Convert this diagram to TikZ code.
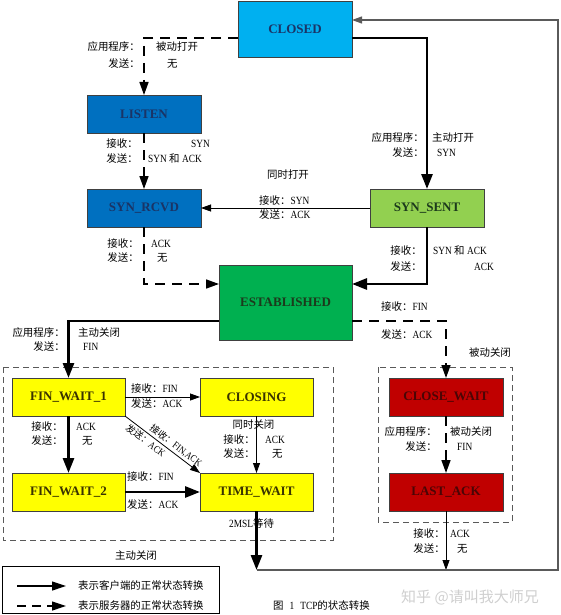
\documentclass[tikz,border=0pt]{standalone}
\usepackage{fontspec}
\setmainfont{Liberation Serif}
\newfontfamily\latfont{Liberation Serif}[FakeStretch=0.85]
\newfontfamily\cjkfont[Scale=0.95]{Noto Sans CJK SC}
\newfontfamily\wmfont{Noto Sans CJK SC}
\usetikzlibrary{arrows.meta,calc}
\newcommand\zh[1]{{\cjkfont #1}}
\definecolor{cclosed}{HTML}{00B0F0}
\definecolor{cblue}{HTML}{0070C0}
\definecolor{cltgreen}{HTML}{92D050}
\definecolor{cgreen}{HTML}{00B050}
\definecolor{cyellow}{HTML}{FFFF00}
\definecolor{cred}{HTML}{C00000}
\definecolor{tblue}{HTML}{1A3466}
\definecolor{tgreen}{HTML}{1C3A1C}
\definecolor{tyellow}{HTML}{3A3300}
\definecolor{tred}{HTML}{4A0505}
\definecolor{retgray}{HTML}{5A5A5A}
\definecolor{wmgray}{HTML}{CFCFCF}
\begin{document}
\begin{tikzpicture}[x=1pt,y=-1pt,
  stbox/.style={draw=black!75, line width=0.6pt, inner sep=0pt, outer sep=0pt,
    minimum width=114pt, minimum height=38pt,
    font=\fontsize{13}{15}\selectfont\bfseries},
  lbl/.style={inner sep=0pt, font=\latfont\fontsize{11}{12}\selectfont},
  dlbl/.style={inner sep=0pt, font=\latfont\fontsize{10}{11}\selectfont},
  thickarr/.style={line width=2.8pt, -{Triangle[length=15pt,width=11pt]}},
  thinarr/.style={line width=0.8pt, -{Triangle[length=10pt,width=7pt]}},
  dasharr/.style={line width=1.6pt, dash pattern=on 10pt off 7pt, -{Triangle[length=13pt,width=9pt]}},
  retline/.style={line width=1.1pt, draw=retgray, -{Triangle[length=10pt,width=7pt]}},
  encl/.style={line width=0.9pt, draw=black!65, dash pattern=on 6pt off 4pt},
  legarr/.style={line width=1.2pt, -{Triangle[length=14pt,width=9pt]}},
  legdash/.style={line width=1.2pt, dash pattern=on 9pt off 6pt, -{Triangle[length=14pt,width=9pt]}}
]
\useasboundingbox (0,0) rectangle (560,615);

% ---- states
\node[stbox, fill=cclosed, text=tblue, minimum height=56pt] (closed) at (295,29) {CLOSED};
\node[stbox, fill=cblue, text=tblue] (listen) at (144,114) {LISTEN};
\node[stbox, fill=cblue, text=tblue] (synrcvd) at (144,208) {SYN\_RCVD};
\node[stbox, fill=cltgreen, text=tgreen] (synsent) at (427,208) {SYN\_SENT};
\node[stbox, fill=cgreen, text=tgreen, minimum width=133pt, minimum height=75pt] (established) at (285.5,302.5) {ESTABLISHED};
\node[stbox, fill=cyellow, text=tyellow, minimum width=113pt] (fw1) at (68.5,397) {FIN\_WAIT\_1};
\node[stbox, fill=cyellow, text=tyellow, minimum width=113pt] (closing) at (256.5,397) {CLOSING};
\node[stbox, fill=cyellow, text=tyellow, minimum width=113pt] (fw2) at (68.5,492) {FIN\_WAIT\_2};
\node[stbox, fill=cyellow, text=tyellow, minimum width=113pt] (timewait) at (256.5,492) {TIME\_WAIT};
\node[stbox, fill=cred, text=tred] (closewait) at (446,397) {CLOSE\_WAIT};
\node[stbox, fill=cred, text=tred] (lastack) at (446,492) {LAST\_ACK};

% ---- enclosures
\draw[encl] (3,367) rectangle (333,540);
\draw[encl] (378,367) rectangle (512,522);

% ---- free ends
\coordinate (bl) at (256.5,570);
\coordinate (br) at (446,570);
\coordinate (rc) at (558,570);

% ---- connectors
\draw[thickarr] ([yshift=-9pt]closed.east) -| (synsent.north);
\draw[dasharr] ([yshift=-9pt]closed.west) -| (listen.north);
\draw[dasharr] (listen.south) -- (synrcvd.north);
\draw[thinarr] (synsent.west) -- (synrcvd.east);
\draw[dasharr] (synrcvd.south) |- ([yshift=18.5pt]established.west);
\draw[thickarr] (synsent.south) |- ([yshift=18.5pt]established.east);
\draw[thickarr] ([yshift=-18.5pt]established.west) -| (fw1.north);
\draw[dasharr] ([yshift=-18.5pt]established.east) -| (closewait.north);
\draw[thinarr] (fw1.east) -- (closing.west);
\draw[thickarr] (fw1.south) -- (fw2.north);
\draw[thinarr] (fw1.south east) --
  node[dlbl, sloped, above=2pt, pos=0.62] {\zh{接收：}FIN,ACK}
  node[dlbl, sloped, below=2pt, pos=0.33] {\zh{发送：}ACK}
  (timewait.north west);
\draw[thinarr] (closing.south) -- (timewait.north);
\draw[thickarr] (fw2.east) -- (timewait.west);
\draw[thickarr] (timewait.south) -- (bl);
\draw[dasharr] (closewait.south) -- (lastack.north);
\draw[thinarr] (lastack.south) -- (br);
\draw[retline] (bl) -- (rc) |- ([yshift=9pt]closed.east);

% ---- labels
\node[lbl, anchor=east] (a1) at (140,47) {\zh{应用程序：}};
\node[lbl, anchor=west] (a2) at (156,47) {\zh{被动打开}};
\node[lbl, anchor=east] (a3) at (140,64) {\zh{发送：}};
\node[lbl, anchor=west] (a4) at (167,64) {\zh{无}};

\node[lbl, anchor=east] (b1) at (138,144) {\zh{接收：}};
\node[lbl, anchor=east] (b2) at (210,144) {SYN};
\node[lbl, anchor=east] (b3) at (138,159) {\zh{发送：}};
\node[lbl, anchor=west] (b4) at (148,159) {SYN\ \zh{和}\ ACK};

\node[lbl] (c0) at (288,175) {\zh{同时打开}};
\node[lbl, anchor=west] (c1) at (259,201) {\zh{接收：}SYN};
\node[lbl, anchor=west] (c2) at (259,215) {\zh{发送：}ACK};

\node[lbl, anchor=east] (d1) at (139,244) {\zh{接收：}};
\node[lbl, anchor=west] (d2) at (151,244) {ACK};
\node[lbl, anchor=east] (d3) at (139,258) {\zh{发送：}};
\node[lbl, anchor=west] (d4) at (157,258) {\zh{无}};

\node[lbl, anchor=east] (e1) at (424,138) {\zh{应用程序：}};
\node[lbl, anchor=west] (e2) at (432,138) {\zh{主动打开}};
\node[lbl, anchor=east] (e3) at (424,153) {\zh{发送：}};
\node[lbl, anchor=west] (e4) at (437,153) {SYN};

\node[lbl, anchor=east] (f1) at (422,251) {\zh{接收：}};
\node[lbl, anchor=west] (f2) at (433,251) {SYN\ \zh{和}\ ACK};
\node[lbl, anchor=east] (f3) at (422,267) {\zh{发送：}};
\node[lbl, anchor=east] (f4) at (494,267) {ACK};

\node[lbl, anchor=east] (g1) at (65,333) {\zh{应用程序：}};
\node[lbl, anchor=west] (g2) at (78,333) {\zh{主动关闭}};
\node[lbl, anchor=east] (g3) at (65,347) {\zh{发送：}};
\node[lbl, anchor=west] (g4) at (83,347) {FIN};

\node[lbl, anchor=west] (h1) at (381,307) {\zh{接收：}FIN};
\node[lbl, anchor=west] (h2) at (381,335) {\zh{发送：}ACK};
\node[lbl] (h3) at (490,353) {\zh{被动关闭}};

\node[lbl, anchor=west] (i1) at (131,389) {\zh{接收：}FIN};
\node[lbl, anchor=west] (i2) at (131,404) {\zh{发送：}ACK};

\node[lbl, anchor=east] (j1) at (63,427) {\zh{接收：}};
\node[lbl, anchor=west] (j2) at (76,427) {ACK};
\node[lbl, anchor=east] (j3) at (63,441) {\zh{发送：}};
\node[lbl, anchor=west] (j4) at (82,441) {\zh{无}};

\node[lbl] (k0) at (253.5,425) {\zh{同时关闭}};
\node[lbl, anchor=east] (k1) at (255,440) {\zh{接收：}};
\node[lbl, anchor=west] (k2) at (265,440) {ACK};
\node[lbl, anchor=east] (k3) at (255,454) {\zh{发送：}};
\node[lbl, anchor=west] (k4) at (272,454) {\zh{无}};

\node[lbl, anchor=west] (m1) at (127,477) {\zh{接收：}FIN};
\node[lbl, anchor=west] (m2) at (127,505) {\zh{发送：}ACK};

\node[lbl, anchor=west] (n1) at (229,523) {2MSL\zh{等待}};
\node[lbl] (n2) at (136,556) {\zh{主动关闭}};

\node[lbl, anchor=east] (o1) at (437,432) {\zh{应用程序：}};
\node[lbl, anchor=west] (o2) at (450,432) {\zh{被动关闭}};
\node[lbl, anchor=east] (o3) at (437,447) {\zh{发送：}};
\node[lbl, anchor=west] (o4) at (457,447) {FIN};

\node[lbl, anchor=east] (p1) at (445,534) {\zh{接收：}};
\node[lbl, anchor=west] (p2) at (450,534) {ACK};
\node[lbl, anchor=east] (p3) at (445,549) {\zh{发送：}};
\node[lbl, anchor=west] (p4) at (457,549) {\zh{无}};

% ---- legend
\draw[line width=0.8pt] (2,566) rectangle (219,613);
\coordinate (la1) at (17,586);
\coordinate (la2) at (66,586);
\coordinate (lb1) at (17,606);
\coordinate (lb2) at (66,606);
\draw[legarr] (la1) -- (la2);
\draw[legdash] (lb1) -- (lb2);
\node[lbl, anchor=west] (q1) at (78,586) {\zh{表示客户端的正常状态转换}};
\node[lbl, anchor=west] (q2) at (78,606) {\zh{表示服务器的正常状态转换}};

% ---- caption and watermark
\node[lbl, anchor=west] (cap) at (273,606) {\zh{图}\hspace{6pt}1\hspace{6pt}TCP\zh{的状态转换}};
\node[inner sep=0pt, text=wmgray, font=\wmfont\fontsize{15}{17}\selectfont] (wm) at (470,597) {知乎 @请叫我大师兄};
\end{tikzpicture}
\end{document}
